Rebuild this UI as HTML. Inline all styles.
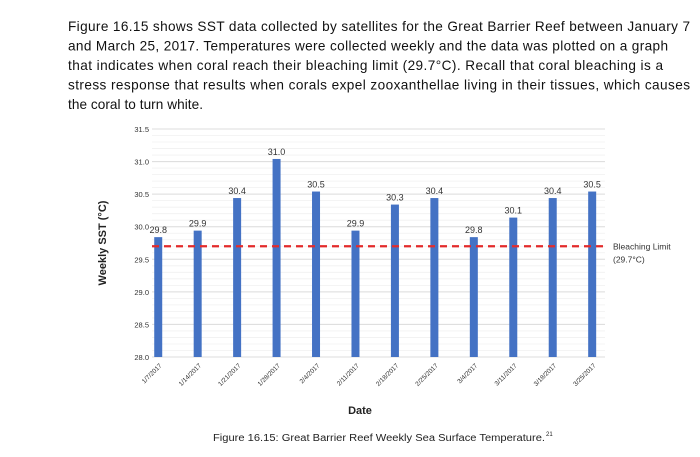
<!DOCTYPE html>
<html><head><meta charset="utf-8">
<style>
body{margin:0;background:#fff;width:700px;height:457px;overflow:hidden;font-family:"Liberation Sans",sans-serif;}
</style></head><body>
<svg id="chart" width="700" height="457" style="position:absolute;left:0;top:0">
<g font-size="13.6" fill="#111">
<text x="68" y="31" textLength="622" lengthAdjust="spacing">Figure 16.15 shows SST data collected by satellites for the Great Barrier Reef between January 7</text>
<text x="68" y="50.5" textLength="600" lengthAdjust="spacing">and March 25, 2017. Temperatures were collected weekly and the data was plotted on a graph</text>
<text x="68" y="70" textLength="595" lengthAdjust="spacing">that indicates when coral reach their bleaching limit (29.7°C). Recall that coral bleaching is a</text>
<text x="68" y="89.5" textLength="622" lengthAdjust="spacing">stress response that results when corals expel zooxanthellae living in their tissues, which causes</text>
<text x="68" y="109" textLength="135" lengthAdjust="spacing">the coral to turn white.</text>
</g>
</svg>
<script>
const categories=["1/7/2017","1/14/2017","1/21/2017","1/28/2017","2/4/2017","2/11/2017","2/18/2017","2/25/2017","3/4/2017","3/11/2017","3/18/2017","3/25/2017"];
const sstValues=[29.84,29.94,30.44,31.04,30.54,29.94,30.34,30.44,29.84,30.14,30.44,30.54];
const yTicks=[28.0,28.5,29.0,29.5,30.0,30.5,31.0,31.5];
const bleachingLimit=29.7;
const NS="http://www.w3.org/2000/svg";
const svg=document.getElementById('chart');
const x0=138.5,step=39.45,yMin=28,yMax=31.5,py0=357,py1=129;
const xs=i=>x0+step*(i+0.5);
const ys=v=>py0-(v-yMin)/(yMax-yMin)*(py0-py1);
function mk(t,a){const e=document.createElementNS(NS,t);for(const k in a)e.setAttribute(k,a[k]);svg.appendChild(e);return e;}
for(let v=28;v<=31.5001;v+=0.1){const l=mk('line',{x1:152,x2:605,y1:ys(v),y2:ys(v),stroke:'#f0f0f0','stroke-width':0.8});

}
yTicks.forEach(v=>{const l=mk('line',{x1:152,x2:605,y1:ys(v),y2:ys(v),stroke:'#dcdcdc','stroke-width':1});


const t=mk('text',{x:149,y:ys(v)+3,'text-anchor':'end','font-size':7.5,fill:'#333'});t.textContent=v.toFixed(1);

});
categories.forEach((c,i)=>{const v=sstValues[i];const x=xs(i);
const r=mk('rect',{x:x-4,y:ys(v),width:8,height:py0-ys(v),fill:'#4472c4'});


const t=mk('text',{x:x,y:ys(v)-4,'text-anchor':'middle','font-size':9,fill:'#333'});t.textContent=v.toFixed(1);


const xl=mk('text',{x:x+4,y:py0+9,'text-anchor':'end','font-size':6.5,fill:'#333',transform:`rotate(-45 ${x+4} ${py0+9})`});xl.textContent=c;

});
const bl=mk('line',{x1:152,x2:607,y1:ys(bleachingLimit),y2:ys(bleachingLimit),stroke:'#e32b2b','stroke-width':2.2,'stroke-dasharray':'7,5'});


const l1=mk('text',{x:613,y:ys(bleachingLimit)+3,'font-size':8.5,fill:'#333'});l1.textContent='Bleaching Limit';


const l2=mk('text',{x:613,y:ys(bleachingLimit)+16,'font-size':8.5,fill:'#333'});l2.textContent='(29.7°C)';


const yt=mk('text',{x:106,y:243,'text-anchor':'middle','font-size':11,'font-weight':'bold',fill:'#222',transform:'rotate(-90 106 243)'});yt.textContent='Weekly SST (°C)';


const xt=mk('text',{x:360,y:414,'text-anchor':'middle','font-size':11,'font-weight':'bold',fill:'#222'});xt.textContent='Date';


const cap=mk('text',{x:213,y:441,'font-size':10,fill:'#222',textLength:332,lengthAdjust:'spacingAndGlyphs'});cap.textContent='Figure 16.15: Great Barrier Reef Weekly Sea Surface Temperature.';


const sup=mk('text',{x:546,y:436,'font-size':6,fill:'#222'});sup.textContent='21';


</script>
</body></html>
